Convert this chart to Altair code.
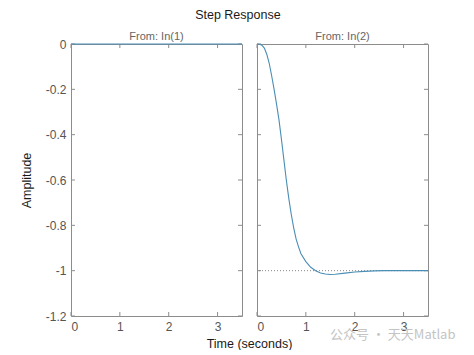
import altair as alt
import pandas as pd

# ---- data ----
t2 = [0, 0.05, 0.1, 0.15, 0.2, 0.25, 0.3, 0.35, 0.4, 0.45, 0.5, 0.55, 0.6, 0.65,
      0.7, 0.75, 0.8, 0.85, 0.9, 1.0, 1.1, 1.2, 1.3, 1.4, 1.5, 1.6, 1.8, 2.0,
      2.2, 2.4, 2.6, 2.8, 3.0, 3.2, 3.5]
amp2 = [0, -0.001, -0.005, -0.018, -0.045, -0.085, -0.14, -0.2, -0.265, -0.335,
        -0.42, -0.51, -0.6, -0.68, -0.75, -0.81, -0.86, -0.895, -0.925, -0.96,
        -0.985, -1.0, -1.01, -1.015, -1.017, -1.016, -1.011, -1.006, -1.003,
        -1.001, -1.0, -1.0, -1.0, -1.0, -1.0]
t1 = [0, 3.5]
amp1 = [0, 0]
steady2 = [-1]
x_ticks = [0, 1, 2, 3]
y_ticks = [0, -0.2, -0.4, -0.6, -0.8, -1, -1.2]
panel_titles = ["From: In(1)", "From: In(2)"]
watermark = "公众号 · 天天Matlab"

W, H = 171, 272
TL = 4
BLUE = "#4a8db5"
FRAME = "#8c8c8c"
LABEL = "#555555"
FONT = "Liberation Sans"

xs = alt.Scale(domain=[0, 3.5], nice=False, zero=False)
ys = alt.Scale(domain=[-1.2, 0], nice=False, zero=False)

xt = pd.DataFrame({"x": x_ticks})
yt = pd.DataFrame({"y": y_ticks})


def panel(t, a, title, left, extra=None):
    df = pd.DataFrame({"t": t, "a": a})
    common_x = dict(values=x_ticks, ticks=False, domain=False, grid=False,
                    labelPadding=5, labelFontSize=12, labelColor=LABEL,
                    labelFont=FONT, labelExpr="toString(datum.value)")
    if left:
        xaxis = alt.Axis(**common_x, title="Time (seconds)", titleX=178,
                         titleY=21, titleFontSize=12.5, titleFontWeight="normal",
                         titleColor="#1a1a1a", titleFont=FONT)
        yaxis = alt.Axis(values=y_ticks, ticks=False, domain=False, grid=False,
                         labelPadding=5, labelFontSize=12, labelColor=LABEL,
                         labelFont=FONT, labelExpr="toString(datum.value)",
                         title="Amplitude", titleFontSize=12.5,
                         titleFontWeight="normal", titleColor="#1a1a1a",
                         titleFont=FONT, titlePadding=12)
        toff = -4
    else:
        yaxis = alt.Axis(values=y_ticks, ticks=False, domain=False, grid=False,
                         labels=False, title=None)
        xaxis = alt.Axis(**common_x, title=None)
        toff = 0

    line = alt.Chart(df).mark_line(color=BLUE, strokeWidth=1.1).encode(
        x=alt.X("t:Q", scale=xs, axis=xaxis),
        y=alt.Y("a:Q", scale=ys, axis=yaxis),
    )
    xtick_b = alt.Chart(xt).mark_rule(color=FRAME, strokeWidth=1).encode(
        x=alt.X("x:Q", scale=xs), y=alt.value(H - TL), y2=alt.value(H))
    xtick_t = alt.Chart(xt).mark_rule(color=FRAME, strokeWidth=1).encode(
        x=alt.X("x:Q", scale=xs), y=alt.value(0), y2=alt.value(TL))
    ytick_l = alt.Chart(yt).mark_rule(color=FRAME, strokeWidth=1).encode(
        y=alt.Y("y:Q", scale=ys), x=alt.value(0), x2=alt.value(TL))
    ytick_r = alt.Chart(yt).mark_rule(color=FRAME, strokeWidth=1).encode(
        y=alt.Y("y:Q", scale=ys), x=alt.value(W - TL), x2=alt.value(W))
    layers = [xtick_b, xtick_t, ytick_l, ytick_r]
    if extra is not None:
        layers += extra
    layers.append(line)
    return alt.layer(*layers).properties(
        width=W, height=H,
        title=alt.TitleParams(title, fontSize=11, color="#666666",
                              fontWeight="normal", font=FONT, offset=toff,
                              frame="group", anchor="middle"),
    )


steady = alt.Chart(pd.DataFrame({"y": steady2})).mark_rule(
    color="#888888", strokeDash=[1, 2], strokeWidth=1).encode(
    y=alt.Y("y:Q", scale=ys))
wm = alt.Chart(pd.DataFrame({"w": [watermark]})).mark_text(
    align="left", baseline="middle", fontSize=13, color="#c4c4c4",
    font="Noto Sans CJK SC").encode(
    text="w:N", x=alt.value(73), y=alt.value(H + 19))

left = panel(t1, amp1, panel_titles[0], True)
right = panel(t2, amp2, panel_titles[1], False, extra=[steady, wm])

chart = alt.hconcat(left, right, spacing=15, bounds="flush").properties(
    title=alt.TitleParams("Step Response", fontSize=12.5, color="#1a1a1a",
                          fontWeight="normal", font=FONT, anchor="middle",
                          offset=9),
    padding={"left": 11, "top": 0, "right": 5, "bottom": 0},
).configure_view(stroke=FRAME, strokeWidth=1)

chart.save("out.html", embed_options={"renderer": "svg", "actions": False})
